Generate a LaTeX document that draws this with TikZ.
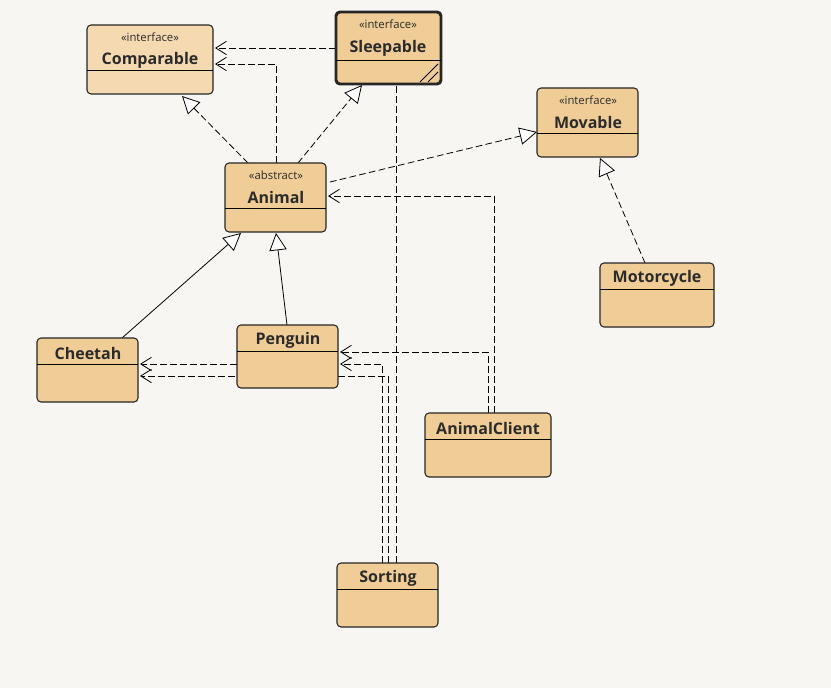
\documentclass[tikz,border=0pt]{standalone}
\usepackage{fontspec}
\setmainfont{Open Sans}
\usetikzlibrary{arrows.meta}
\definecolor{bg}{HTML}{F7F6F2}
\definecolor{boxc}{HTML}{F0CD96}
\definecolor{boxl}{HTML}{F5D9B0}
\definecolor{txt}{HTML}{2B2B2B}
\begin{document}
\begin{tikzpicture}[x=0.75pt,y=-0.75pt,
  box/.style={draw=black!85,fill=boxc,rounded corners=3pt,line width=0.8pt,inner sep=0pt},
  nm/.style={font=\fontsize{12}{14}\selectfont\bfseries,text=txt},
  st/.style={font=\fontsize{8.5}{10}\selectfont,text=txt},
  dep/.style={dash pattern=on 5pt off 2.5pt,line width=0.6pt,-{Straight Barb[length=8pt,width=10pt]}},
  real/.style={dash pattern=on 5pt off 2.5pt,line width=0.6pt,-{Triangle[open,length=13pt,width=13pt,fill=white]}},
  gen/.style={line width=0.6pt,-{Triangle[open,length=13pt,width=13pt,fill=white]}}]
\fill[bg] (0,0) rectangle (831,688);
\useasboundingbox (0,0) rectangle (831,688);
\coordinate (cmpR1) at (215,48);
\coordinate (cmpR2) at (215,64);
\coordinate (aniB1) at (182,96);
\coordinate (slpB) at (362,85);
\coordinate (movL) at (537,132);
\coordinate (movB) at (600,158);
\coordinate (aniB2) at (241,233);
\coordinate (aniB3) at (276,233);
\coordinate (aniR) at (328,196);
\coordinate (penR1) at (340,352);
\coordinate (penR2) at (340,364);
\coordinate (cheR1) at (140,364);
\coordinate (cheR2) at (140,376);
\draw[dep] (336,48) -- (cmpR1);
\draw[dep] (276,163) -- (276,64) -- (cmpR2);
\draw[real] (248,163) -- (aniB1);
\draw[real] (298,163) -- (slpB);
\draw[real] (330,182) -- (movL);
\draw[real] (645,263) -- (movB);
\draw[gen] (122,338) -- (aniB2);
\draw[gen] (287,325) -- (aniB3);
\draw[dep] (494,413) -- (494,196) -- (aniR);
\draw[dep] (488,413) -- (488,352) -- (penR1);
\draw[dep] (382,563) -- (382,364) -- (penR2);
\draw[dep] (237,364) -- (cheR1);
\draw[dep] (388,563) -- (388,376) -- (cheR2);
\draw[dash pattern=on 5pt off 2.5pt,line width=0.6pt] (396,563) -- (396,84);
\node[box,fill=boxl,minimum width=126*0.75pt,minimum height=69*0.75pt] (comparable) at (150,59.5) {};
\draw[line width=0.6pt] (87,70) -- (213,70);
\node[st] at (150,37) {«interface»};
\node[nm] at (150,60) {Comparable};
\node[box,line width=2.2pt,minimum width=105*0.75pt,minimum height=72*0.75pt] (sleepable) at (388.5,48) {};
\draw[line width=0.6pt] (336,60) -- (441,60);
\draw[line width=0.6pt] (420,82) -- (438,64) (428,82) -- (438,72);
\node[st] at (388,24) {«interface»};
\node[nm] at (388,48) {Sleepable};
\node[box,minimum width=101*0.75pt,minimum height=69*0.75pt] (movable) at (587.5,122.5) {};
\draw[line width=0.6pt] (537,133) -- (638,133);
\node[st] at (588,100) {«interface»};
\node[nm] at (588,123) {Movable};
\node[box,minimum width=101*0.75pt,minimum height=69*0.75pt] (animal) at (275.5,197.5) {};
\draw[line width=0.6pt] (225,208) -- (326,208);
\node[st] at (276,175) {«abstract»};
\node[nm] at (276,198) {Animal};
\node[box,minimum width=114*0.75pt,minimum height=64*0.75pt] (motorcycle) at (657,295) {};
\draw[line width=0.6pt] (600,289) -- (714,289);
\node[nm] at (657,278) {Motorcycle};
\node[box,minimum width=101*0.75pt,minimum height=64*0.75pt] (cheetah) at (87.5,370) {};
\draw[line width=0.6pt] (37,364) -- (138,364);
\node[nm] at (88,353) {Cheetah};
\node[box,minimum width=101*0.75pt,minimum height=63*0.75pt] (penguin) at (287.5,356.5) {};
\draw[line width=0.6pt] (237,351) -- (338,351);
\node[nm] at (288,340) {Penguin};
\node[box,minimum width=126*0.75pt,minimum height=64*0.75pt] (animalclient) at (488,445) {};
\draw[line width=0.6pt] (425,439) -- (551,439);
\node[nm] at (488,428) {AnimalClient};
\node[box,minimum width=101*0.75pt,minimum height=64*0.75pt] (sorting) at (387.5,595) {};
\draw[line width=0.6pt] (337,589) -- (438,589);
\node[nm] at (388,578) {Sorting};
\end{tikzpicture}
\end{document}
